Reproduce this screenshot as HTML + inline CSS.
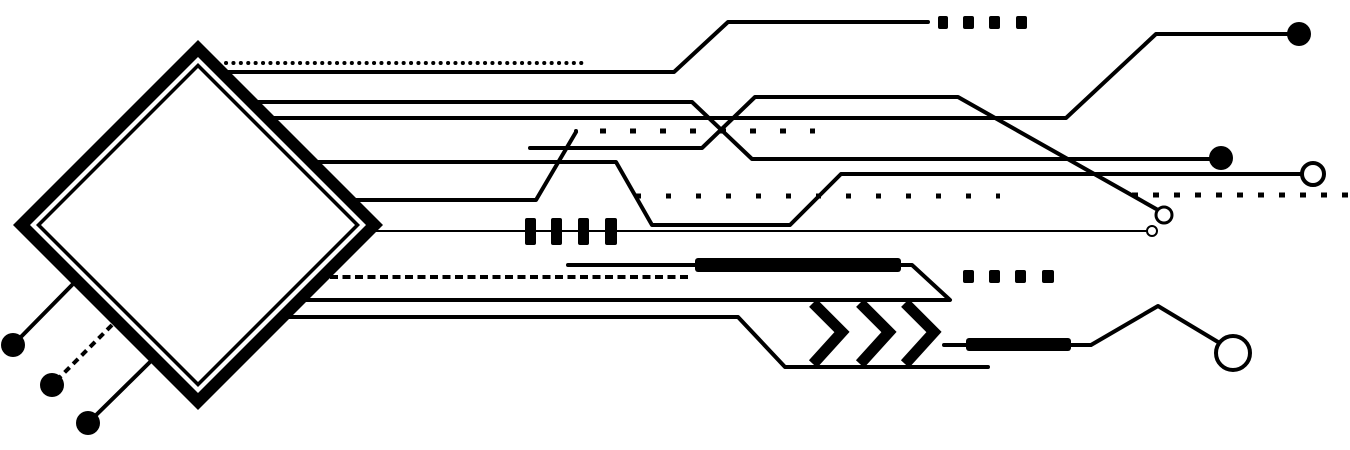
<!DOCTYPE html>
<html><head><meta charset="utf-8"><style>html,body{margin:0;padding:0;background:#fff}svg{display:block}</style></head>
<body>
<svg width="1350" height="450" viewBox="0 0 1350 450" xmlns="http://www.w3.org/2000/svg">
<g fill="none" stroke="#000" stroke-width="4" stroke-linejoin="round" stroke-linecap="round">
<!-- left pins -->
<line x1="72" y1="285" x2="13" y2="345"/>
<line x1="112" y1="325" x2="52" y2="385" stroke-dasharray="7,5" stroke-linecap="butt"/>
<line x1="150" y1="362" x2="88" y2="423"/>
<!-- line 1 dotted -->
<line x1="226" y1="63" x2="583" y2="63" stroke-dasharray="0.1,7.3" stroke-width="4"/>
<!-- line 2 -->
<polyline points="220,72 674,72 728,22 928,22"/>
<!-- line 3 -->
<polyline points="255,102 692,102 752,159 1215,159"/>
<!-- line 4 -->
<polyline points="270,118 1066,118 1156,34 1299,34"/>
<!-- line 5 -->
<polyline points="530,148 702,148 755,97 958,97 1158,210"/>
<!-- dashed 6 -->
<line x1="576" y1="131" x2="576" y2="131" stroke-width="4"/>
<line x1="600" y1="131" x2="815" y2="131" stroke-dasharray="6,24" stroke-linecap="butt" stroke-width="5"/>
<!-- 7 -->
<polyline points="576,132 536,200 350,200"/>
<!-- 8 -->
<polyline points="315,162 616,162 652,225 790,225 841,174 1302,174"/>
<!-- 9 dotted -->
<line x1="636" y1="196" x2="1000" y2="196" stroke-dasharray="5,25" stroke-linecap="butt" stroke-width="5"/>
<line x1="1132" y1="195" x2="1350" y2="195" stroke-dasharray="6,15" stroke-linecap="butt" stroke-width="5"/>
<!-- 10 thin -->
<line x1="370" y1="231" x2="1147" y2="231" stroke-width="2"/>
<!-- 11/12 -->
<polyline points="568,265 912,265 950,300 305,300"/>
<line x1="330" y1="277" x2="690" y2="277" stroke-dasharray="8,4.5" stroke-linecap="butt"/>
<!-- 14 -->
<polyline points="285,317 738,317 785,367 988,367"/>
<!-- 16 -->
<polyline points="944,345 1091,345 1158,306 1218,342"/>
<!-- chevrons -->
<g stroke-width="11" stroke-linejoin="miter" stroke-linecap="butt">
<polyline points="813,303 842,332 813,364"/>
<polyline points="860,303 889,332 860,364"/>
<polyline points="905,303 934,332 905,364"/>
</g>
</g>
<!-- bars -->
<rect x="695" y="258" width="206" height="14" rx="3"/>
<rect x="966" y="338" width="105" height="13" rx="3"/>
<!-- squares -->
<g>
<rect x="938" y="16" width="10" height="13" rx="2"/>
<rect x="963" y="16" width="11" height="13" rx="2"/>
<rect x="989" y="16" width="11" height="13" rx="2"/>
<rect x="1016" y="16" width="11" height="13" rx="2"/>
<rect x="963" y="270" width="11" height="13" rx="2"/>
<rect x="989" y="270" width="11" height="13" rx="2"/>
<rect x="1015" y="270" width="11" height="13" rx="2"/>
<rect x="1042" y="270" width="12" height="13" rx="2"/>
<rect x="525" y="218" width="11" height="27" rx="2"/>
<rect x="551" y="218" width="11" height="27" rx="2"/>
<rect x="578" y="218" width="11" height="27" rx="2"/>
<rect x="605" y="218" width="12" height="27" rx="2"/>
</g>
<!-- dots -->
<circle cx="1221" cy="158" r="12"/>
<circle cx="1299" cy="34" r="12"/>
<circle cx="13" cy="345" r="12"/>
<circle cx="52" cy="385" r="12"/>
<circle cx="88" cy="423" r="12"/>
<g fill="#fff" stroke="#000">
<circle cx="1313" cy="174" r="11" stroke-width="4"/>
<circle cx="1164" cy="215" r="8" stroke-width="3"/>
<circle cx="1152" cy="231" r="5" stroke-width="2"/>
<circle cx="1233" cy="353" r="17" stroke-width="4"/>
</g>
<!-- diamond -->
<polygon points="198,40 383,225 198,410 13,225" fill="#000"/>
<polygon points="198,57 366,225 198,393 30,225" fill="#fff"/>
<polygon points="198,63 360,225 198,387 36,225" fill="#000"/>
<polygon points="198,68 355,225 198,382 41,225" fill="#fff"/>
</svg>
</body></html>
